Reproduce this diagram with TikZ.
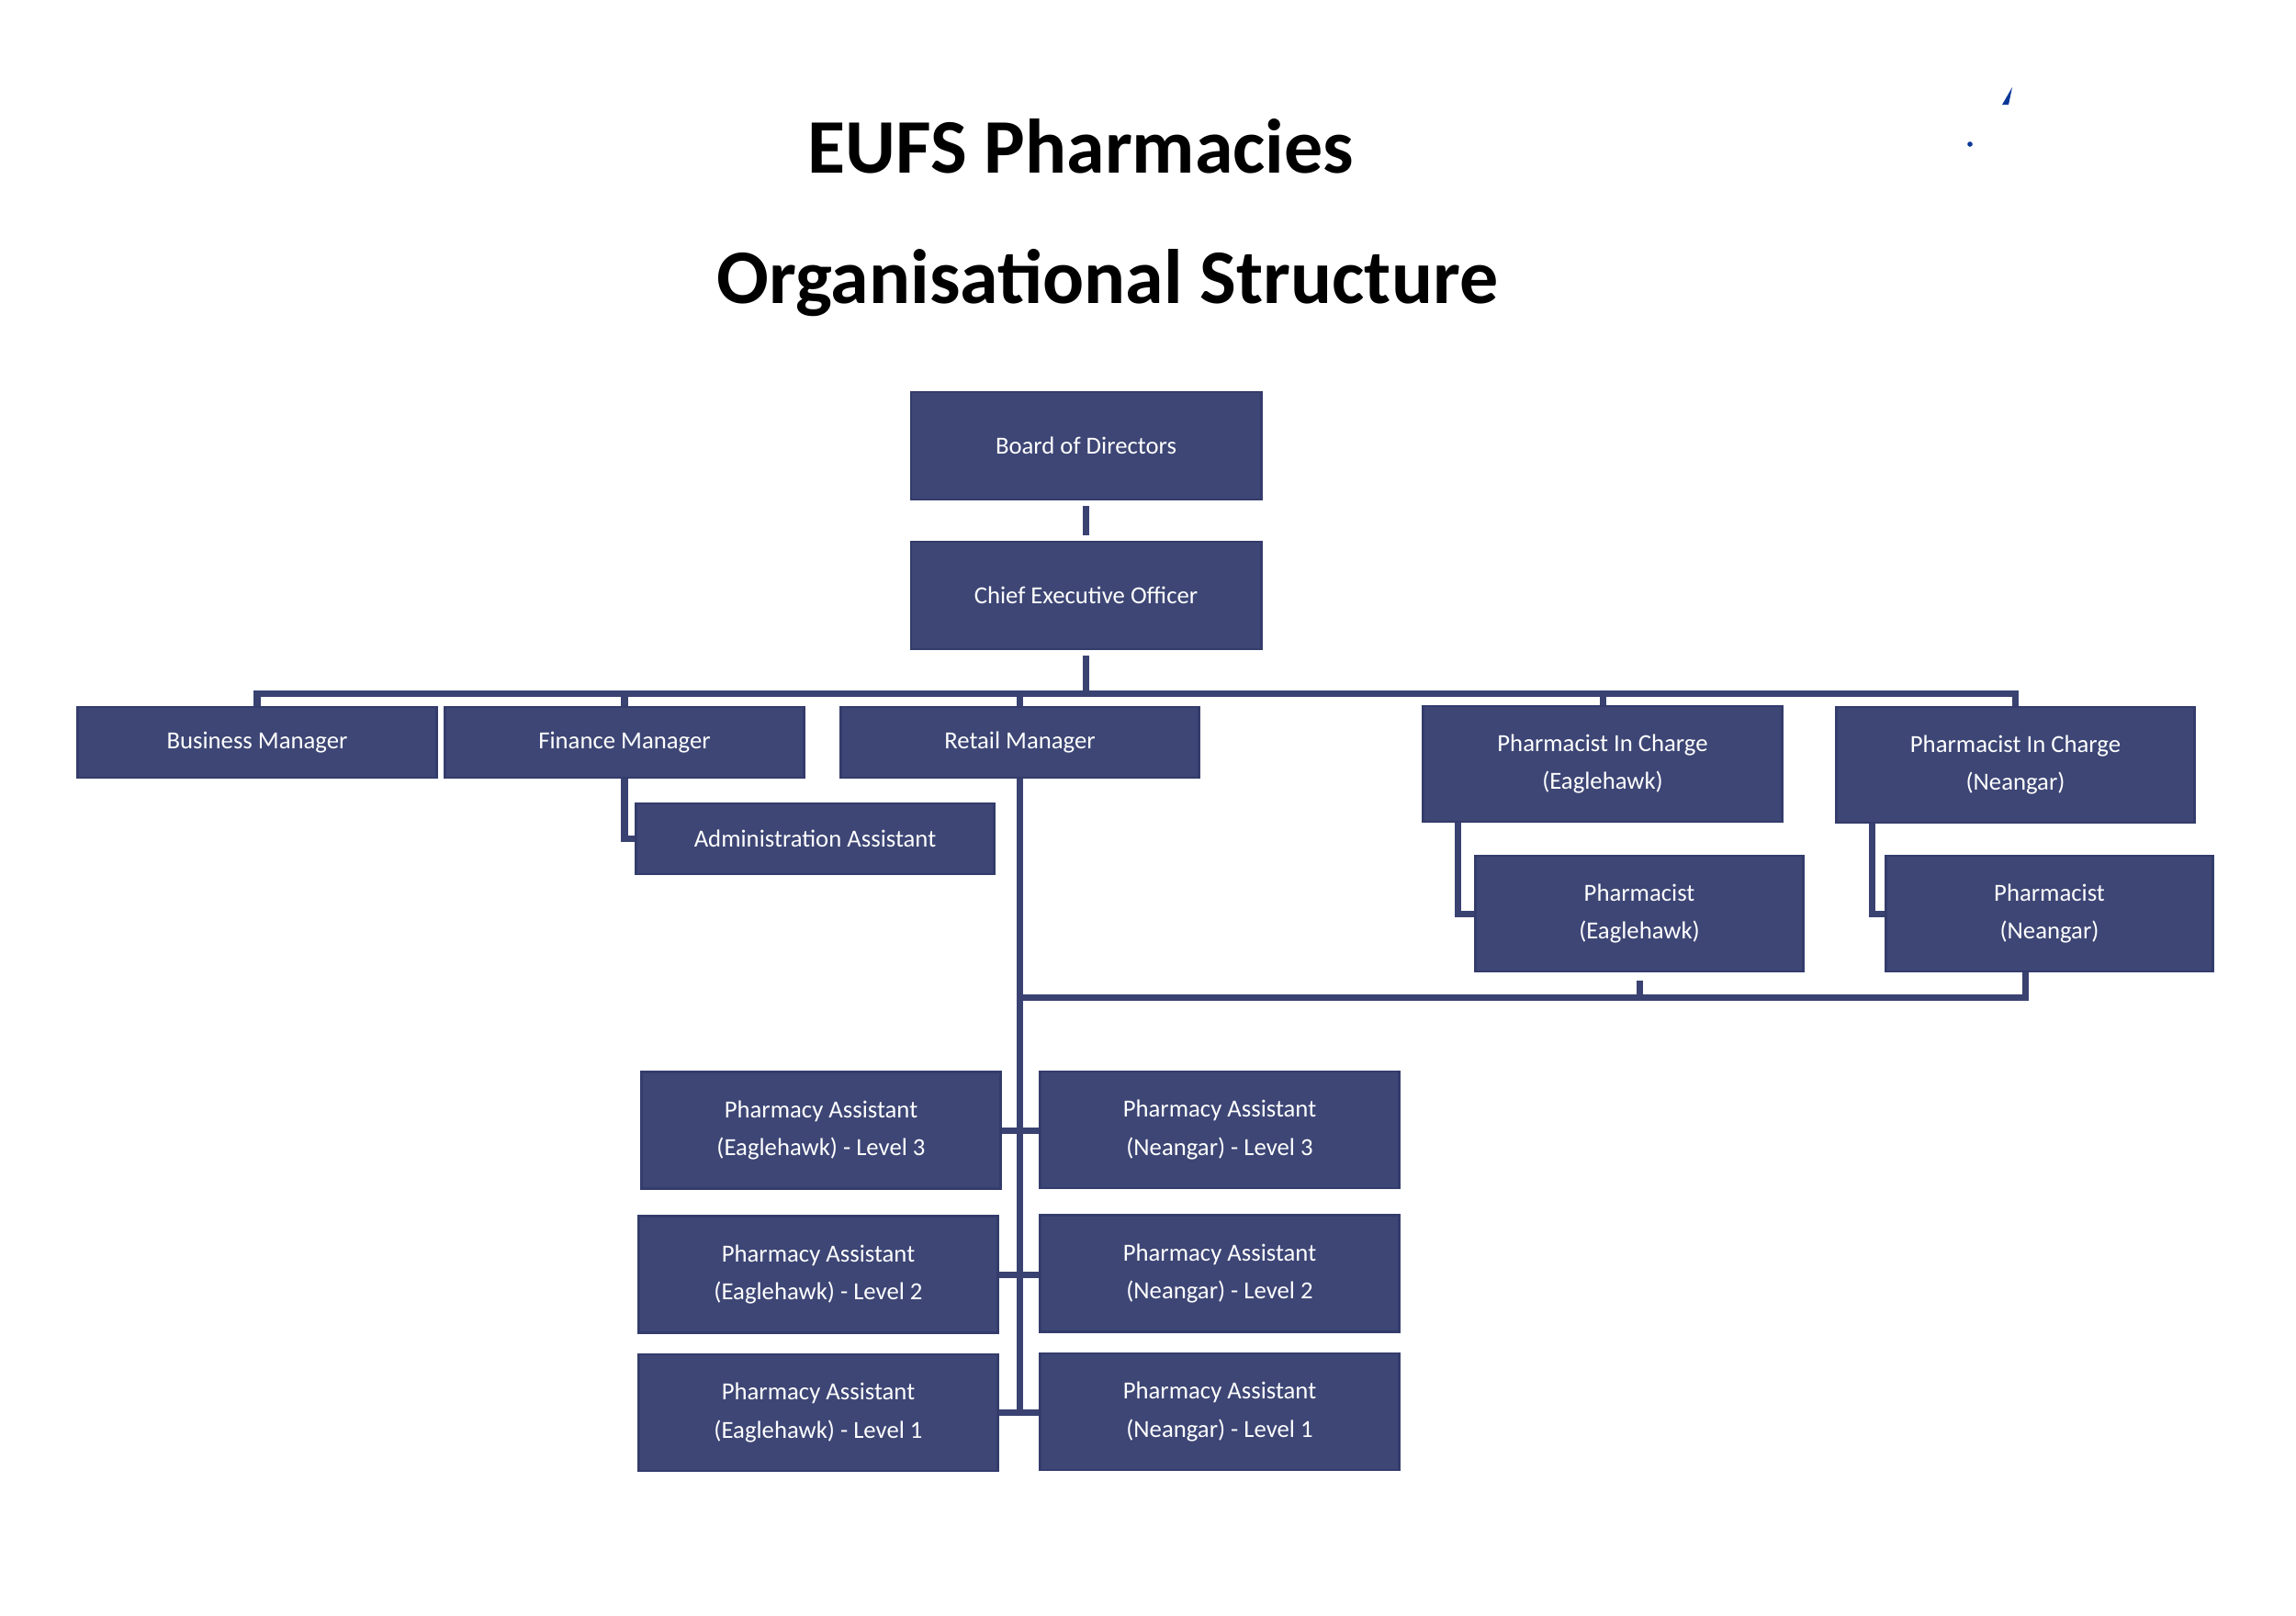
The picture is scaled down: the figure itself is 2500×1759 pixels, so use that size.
\documentclass[tikz,border=0pt]{standalone}
\usepackage{fontspec}
\setmainfont{Carlito}
\usepackage{xcolor}
\usepackage{tikz}
\usetikzlibrary{positioning}

\definecolor{boxblue}{RGB}{61,70,117}
\definecolor{boxedge}{RGB}{52,60,108}
\definecolor{linkblue}{RGB}{58,66,114}
\definecolor{logoblue}{RGB}{10,55,150}

\begin{document}
\begin{tikzpicture}[
  x=0.01cm, y=-0.01cm,
  box/.style={draw=boxedge, line width=0.8pt, fill=boxblue, text=white, align=center, inner sep=0pt,
    font=\fontsize{7.6pt}{11.7pt}\selectfont, minimum width=111pt, minimum height=21.9pt},
  tall/.style={minimum height=35.8pt},
  pabox/.style={box, minimum height=36.1pt},
  conn/.style={draw=linkblue, line width=2pt},
  gap/.style={shorten <=1.7pt, shorten >=1.7pt},
  title/.style={anchor=base, font=\fontsize{23.9pt}{28pt}\selectfont\bfseries}
]
\useasboundingbox (0,0) rectangle (2500,1759);

% title
\node[title] (title1) at (1177,188) {EUFS Pharmacies};
\node[title] (title2) at (1206,330) {Organisational Structure};

% bits of a logo, top right
\fill[logoblue] (2180,114) -- (2191,95) -- (2187,114) -- cycle;
\fill[logoblue] (2145,157) circle[radius=0.8pt];

% top of the tree
\node[box, minimum width=108.4pt, minimum height=33.3pt] (board) at (1182.5,485.5) {Board of Directors};
\node[box, minimum width=108.4pt, minimum height=33.3pt] (ceo) at (1182.5,648.5) {Chief Executive Officer};

% managers
\node[box] (busmgr) at (280,808.5) {Business Manager};
\node[box] (finmgr) at (680,808.5) {Finance Manager};
\node[box] (retmgr) at (1110.5,808.5) {Retail Manager};
\node[box, tall] (picE) at (1745,832) {Pharmacist In Charge\\(Eaglehawk)};
\node[box, tall] (picN) at (2194.5,833) {Pharmacist In Charge\\(Neangar)};
\node[box] (admin) at (887.5,913.5) {Administration Assistant};
\node[box, tall, minimum width=101.3pt] (phE) at (1785,995) {Pharmacist\\(Eaglehawk)};
\node[box, tall, minimum width=101.3pt] (phN) at (2231.5,995) {Pharmacist\\(Neangar)};

% pharmacy assistants
\node[pabox] (paE3) at (894,1231) {Pharmacy Assistant\\(Eaglehawk) - Level 3};
\node[pabox] (paN3) at (1328,1230.5) {Pharmacy Assistant\\(Neangar) - Level 3};
\node[pabox] (paE2) at (891,1388) {Pharmacy Assistant\\(Eaglehawk) - Level 2};
\node[pabox] (paN2) at (1328,1387) {Pharmacy Assistant\\(Neangar) - Level 2};
\node[pabox] (paE1) at (891,1538.5) {Pharmacy Assistant\\(Eaglehawk) - Level 1};
\node[pabox] (paN1) at (1328,1537.5) {Pharmacy Assistant\\(Neangar) - Level 1};

\coordinate (bus) at (0,755);
\coordinate (low) at (0,1086);

% connectors
\draw[conn, gap] (board) -- (ceo);
\draw[conn, shorten <=1.7pt] (ceo.south) -- (ceo.south |- bus);
\draw[conn] (busmgr.north) -- (busmgr.north |- bus) -- (picN.north |- bus) -- (picN.north);
\foreach \n in {finmgr, retmgr, picE}
  \draw[conn] (\n.north) -- (\n.north |- bus);
\draw[conn] (finmgr.south) |- (admin.west);
\draw[conn] ([xshift=11pt]picE.south west) |- (phE.west);
\draw[conn] ([xshift=11.4pt]picN.south west) |- (phN.west);
\draw[conn] (retmgr.south) -- (retmgr.south |- paE1.east);
\draw[conn] (retmgr.south |- low) -| ([xshift=-7.4pt]phN.south);
\draw[conn, shorten <=2.5pt] (phE.south) -- (phE.south |- low);
\draw[conn] (paE3.east) -- (paE3.east -| paN3.west);
\draw[conn] (paE2.east) -- (paE2.east -| paN2.west);
\draw[conn] (paE1.east) -- (paE1.east -| paN1.west);
\end{tikzpicture}
\end{document}
